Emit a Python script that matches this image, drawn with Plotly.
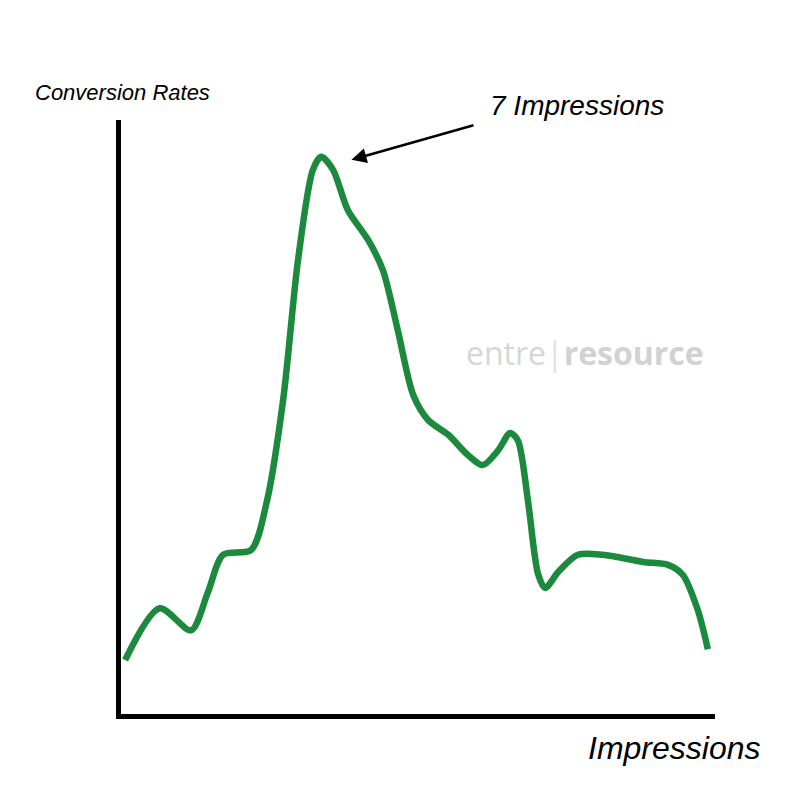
import plotly.graph_objects as go

# Curve values (data units: x 0-100 impressions scale, y 0-100 conversion scale)
impressions = [0.7, 6.5, 11.8, 14.6, 17.2, 21.9, 24.6, 27.3, 29.8, 32.3, 33.7, 35.7, 38.2,
               41.6, 44.1, 46.6, 49.2, 51.7, 55.1, 58.4, 60.9, 63.5, 65.5, 66.8, 68.5,
               70.2, 71.4, 73.6, 76.9, 81.1, 87.9, 92.1, 94.6, 97.1, 98.8]
conversion = [9.1, 17.8, 14.1, 20.4, 26.8, 27.6, 36.0, 52.9, 76.4, 91.6, 93.8, 91.6, 84.8,
              79.8, 74.7, 64.6, 53.7, 49.5, 47.0, 43.6, 41.9, 44.4, 47.3, 46.1, 36.0,
              23.6, 21.2, 23.9, 26.8, 26.8, 25.6, 25.1, 23.4, 17.5, 10.9]

y_title = "Conversion Rates"
x_title = "Impressions"
peak_label = "7 Impressions"

fig = go.Figure()
fig.add_trace(go.Scatter(
    x=impressions, y=conversion, mode="lines",
    line=dict(color="#1b8a3c", width=6.5, shape="spline", smoothing=0.8),
    hoverinfo="skip", showlegend=False,
))

hand = "Liberation Sans"
fig.update_layout(
    width=800, height=800,
    paper_bgcolor="white", plot_bgcolor="white",
    margin=dict(l=113, r=93, t=112, b=94),
    xaxis=dict(range=[0, 100], showgrid=False, zeroline=False, showticklabels=False,
               ticks="", showline=True, linecolor="black", linewidth=5, fixedrange=True),
    yaxis=dict(range=[0, 100], showgrid=False, zeroline=False, showticklabels=False,
               ticks="", showline=True, linecolor="black", linewidth=5, fixedrange=True),
    font=dict(family=hand, color="black"),
)

fig.add_annotation(text="<i>" + y_title + "</i>", xref="paper", yref="paper",
                   x=-0.148, y=1.047, xanchor="left", yanchor="middle",
                   showarrow=False, font=dict(size=22, family=hand, color="black"))
fig.add_annotation(text="<i>" + x_title + "</i>", xref="paper", yref="paper",
                   x=1.081, y=-0.057, xanchor="right", yanchor="middle",
                   showarrow=False, font=dict(size=32, family=hand, color="black"))
fig.add_annotation(text="<i>" + peak_label + "</i>", xref="paper", yref="paper",
                   x=0.618, y=1.025, xanchor="left", yanchor="middle",
                   showarrow=False, font=dict(size=28, family=hand, color="black"))
# arrow pointing at the peak
fig.add_annotation(text="", xref="x", yref="y", axref="x", ayref="y",
                   x=38.8, y=93.3, ax=59.6, ay=99.2,
                   showarrow=True, arrowhead=2, arrowsize=1.2, arrowwidth=2.5,
                   arrowcolor="black")
# watermark
fig.add_annotation(
    text="<span style='color:#d6d6d6'>entre</span>"
         "<span style='color:#e2e2e2'>|</span>"
         "<b><span style='color:#d2d2d2'>resource</span></b>",
    xref="x", yref="y", x=78.1, y=60.8, xanchor="center", yanchor="middle",
    showarrow=False, font=dict(size=32, family="Open Sans"))

fig.write_html("out.html")
